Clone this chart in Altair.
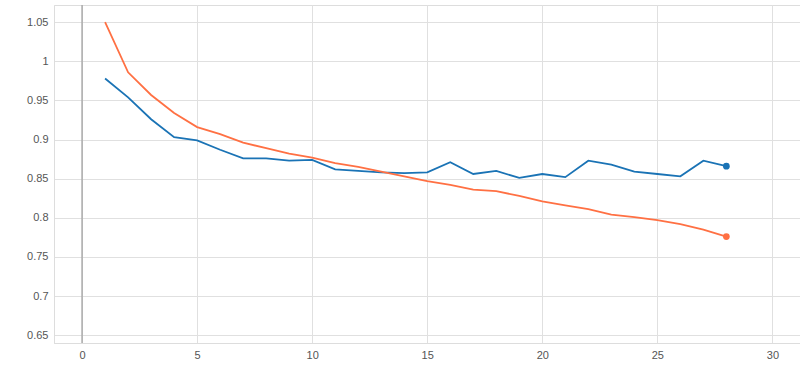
import altair as alt
import pandas as pd

steps = list(range(1, 29))
orange_vals = [1.050, 0.986, 0.957, 0.934, 0.916, 0.907, 0.896, 0.889, 0.882, 0.877,
               0.870, 0.865, 0.859, 0.853, 0.847, 0.842, 0.836, 0.834, 0.828, 0.821,
               0.816, 0.811, 0.804, 0.801, 0.797, 0.792, 0.785, 0.776]
blue_vals = [0.978, 0.954, 0.926, 0.903, 0.899, 0.887, 0.876, 0.876, 0.873, 0.874,
             0.862, 0.860, 0.858, 0.857, 0.858, 0.871, 0.856, 0.860, 0.851, 0.856,
             0.852, 0.873, 0.868, 0.859, 0.856, 0.853, 0.873, 0.866]
series_names = ["blue", "orange"]
series_colors = ["#1a73b5", "#ff7043"]
x_ticks = [0, 5, 10, 15, 20, 25, 30]
y_ticks = [0.65, 0.7, 0.75, 0.8, 0.85, 0.9, 0.95, 1, 1.05]

rows = []
for s, v in zip(steps, blue_vals):
    rows.append({"step": s, "value": v, "series": "blue"})
for s, v in zip(steps, orange_vals):
    rows.append({"step": s, "value": v, "series": "orange"})
df = pd.DataFrame(rows)
last = df[df["step"] == steps[-1]]

xs = alt.Scale(domain=[-1.22, 31.2], nice=False, zero=False)
ys = alt.Scale(domain=[0.64, 1.072], nice=False, zero=False)
cs = alt.Scale(domain=series_names, range=series_colors)

xaxis = alt.Axis(values=x_ticks, title=None, ticks=False, labelPadding=6,
                 grid=True, gridColor="#e0e0e0", domainColor="#dddddd",
                 labelColor="#555555", labelFontSize=11, labelFont="Liberation Sans")
yaxis = alt.Axis(values=y_ticks, title=None, ticks=False, labelPadding=6,
                 grid=True, gridColor="#e0e0e0", domainColor="#dddddd",
                 labelColor="#555555", labelFontSize=11, labelFont="Liberation Sans",
                 labelExpr="format(datum.value, '~g')")

lines = alt.Chart(df).mark_line(strokeWidth=1.8).encode(
    x=alt.X("step:Q", scale=xs, axis=xaxis),
    y=alt.Y("value:Q", scale=ys, axis=yaxis),
    color=alt.Color("series:N", scale=cs, legend=None),
    detail="series:N",
)

zero = alt.Chart(pd.DataFrame({"x": [0]})).mark_rule(color="#aaaaaa", strokeWidth=1.5).encode(
    x=alt.X("x:Q", scale=xs)
)

dots = alt.Chart(last).mark_circle(size=45, opacity=1).encode(
    x=alt.X("step:Q", scale=xs),
    y=alt.Y("value:Q", scale=ys),
    color=alt.Color("series:N", scale=cs, legend=None),
)

chart = alt.layer(zero, lines, dots).properties(
    width=746, height=338,
    autosize=alt.AutoSizeParams(type="none"),
    padding={"left": 54, "top": 5, "right": 0, "bottom": 22},
).configure_view(stroke=None).configure(background="white")

chart.save("out.html", embed_options={"renderer": "svg", "actions": False})
